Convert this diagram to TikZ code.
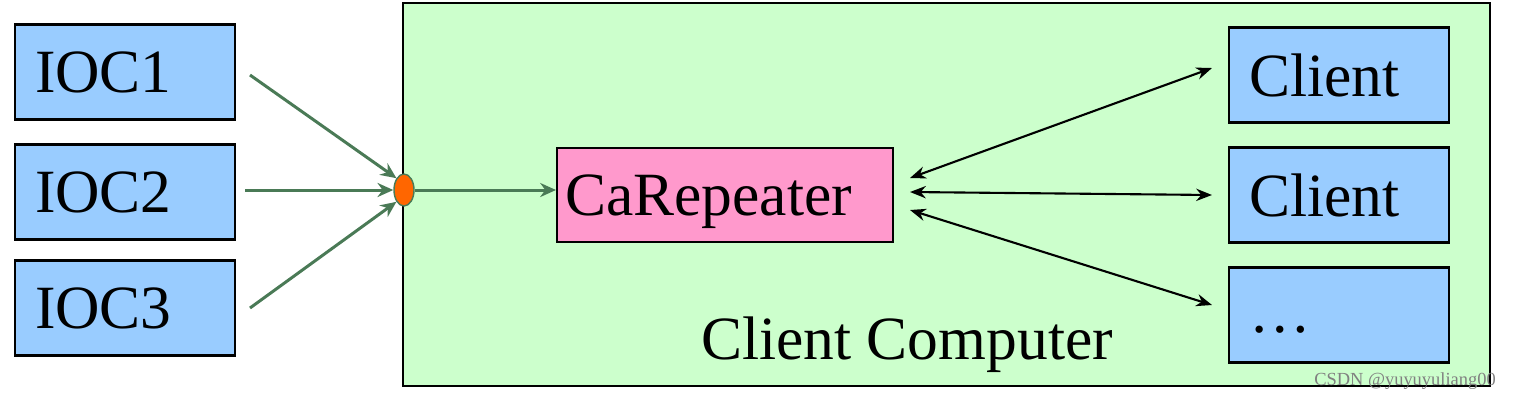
\documentclass[tikz,border=0pt]{standalone}
\usepackage{fontspec}
\setmainfont{Liberation Serif}
\usetikzlibrary{arrows.meta,shapes.geometric}
\definecolor{boxblue}{HTML}{99CCFF}
\definecolor{boxpink}{HTML}{FF99CC}
\definecolor{boxgreen}{HTML}{CCFFCC}
\definecolor{arrowgreen}{HTML}{4A7A56}
\definecolor{dotorange}{HTML}{FF6600}
\begin{document}
\begin{tikzpicture}[x=0.02cm,y=-0.02cm]
  \tikzstyle{every node}=[font=\fontsize{35}{40}\selectfont]
  \tikzstyle{ioc}=[draw=black,fill=boxblue,line width=1.2pt,minimum width=4.4cm,minimum height=1.9cm,inner sep=0pt,text width=3.6cm,text depth=0pt,align=left]
  \tikzstyle{feed}=[draw=arrowgreen,line width=1.7pt,-{Stealth[length=9pt,width=8pt]}]
  \tikzstyle{link}=[draw=black,line width=1.2pt,{Stealth[length=9pt,width=7pt]}-{Stealth[length=9pt,width=7pt]}]
 \useasboundingbox (0,0) rectangle (1514,400);
 \node[draw=black,fill=boxgreen,line width=1.2pt,minimum width=21.74cm,minimum height=7.66cm,inner sep=0pt] (cc) at (946.5,194.5) {};
 \node[draw=none,fill=none] (cclabel) at (907,345) {Client Computer};
 \node[ioc] (ioc1) at (125,72) {IOC1};
 \node[ioc] (ioc2) at (125,192) {IOC2};
 \node[ioc] (ioc3) at (125,308) {IOC3};
 \node[draw=black,fill=boxpink,line width=1.2pt,minimum width=6.72cm,minimum height=1.88cm,inner sep=0pt,text width=6.4cm,text depth=0pt,align=left] (rep) at (725,195) {CaRepeater};
 \node[ioc] (c1) at (1339,75) {Client};
 \node[ioc] (c2) at (1339,195) {Client};
 \node[ioc] (c3) at (1339,315) {\raisebox{-0.35cm}{\ldots}};
 \node[draw=arrowgreen,fill=dotorange,ellipse,line width=0.8pt,minimum width=0.4cm,minimum height=0.64cm,inner sep=0pt] (dot) at (404,190) {};
 \node[draw=none,fill=none,text=gray,font=\fontsize{10.5}{12}\selectfont] (mark) at (1405,381) {CSDN @yuyuyuliang00};

 \coordinate (a1) at (250,75);
 \coordinate (a2) at (245,190);
 \coordinate (a3) at (250,308);
 \coordinate (r1) at (910,178);
 \coordinate (r2) at (910,192);
 \coordinate (r3) at (910,210);
 \coordinate (b1) at (1212,68);
 \coordinate (b2) at (1212,195);
 \coordinate (b3) at (1212,305);

 \draw [feed] (a1) -- (dot.north west);
 \draw [feed] (a2) -- (dot.west);
 \draw [feed] (a3) -- (dot.south west);
 \draw [feed] (dot.east) -- (dot.east -| rep.west);
 \draw [link] (r1) -- (b1);
 \draw [link] (r2) -- (b2);
 \draw [link] (r3) -- (b3);
\end{tikzpicture}
\end{document}
